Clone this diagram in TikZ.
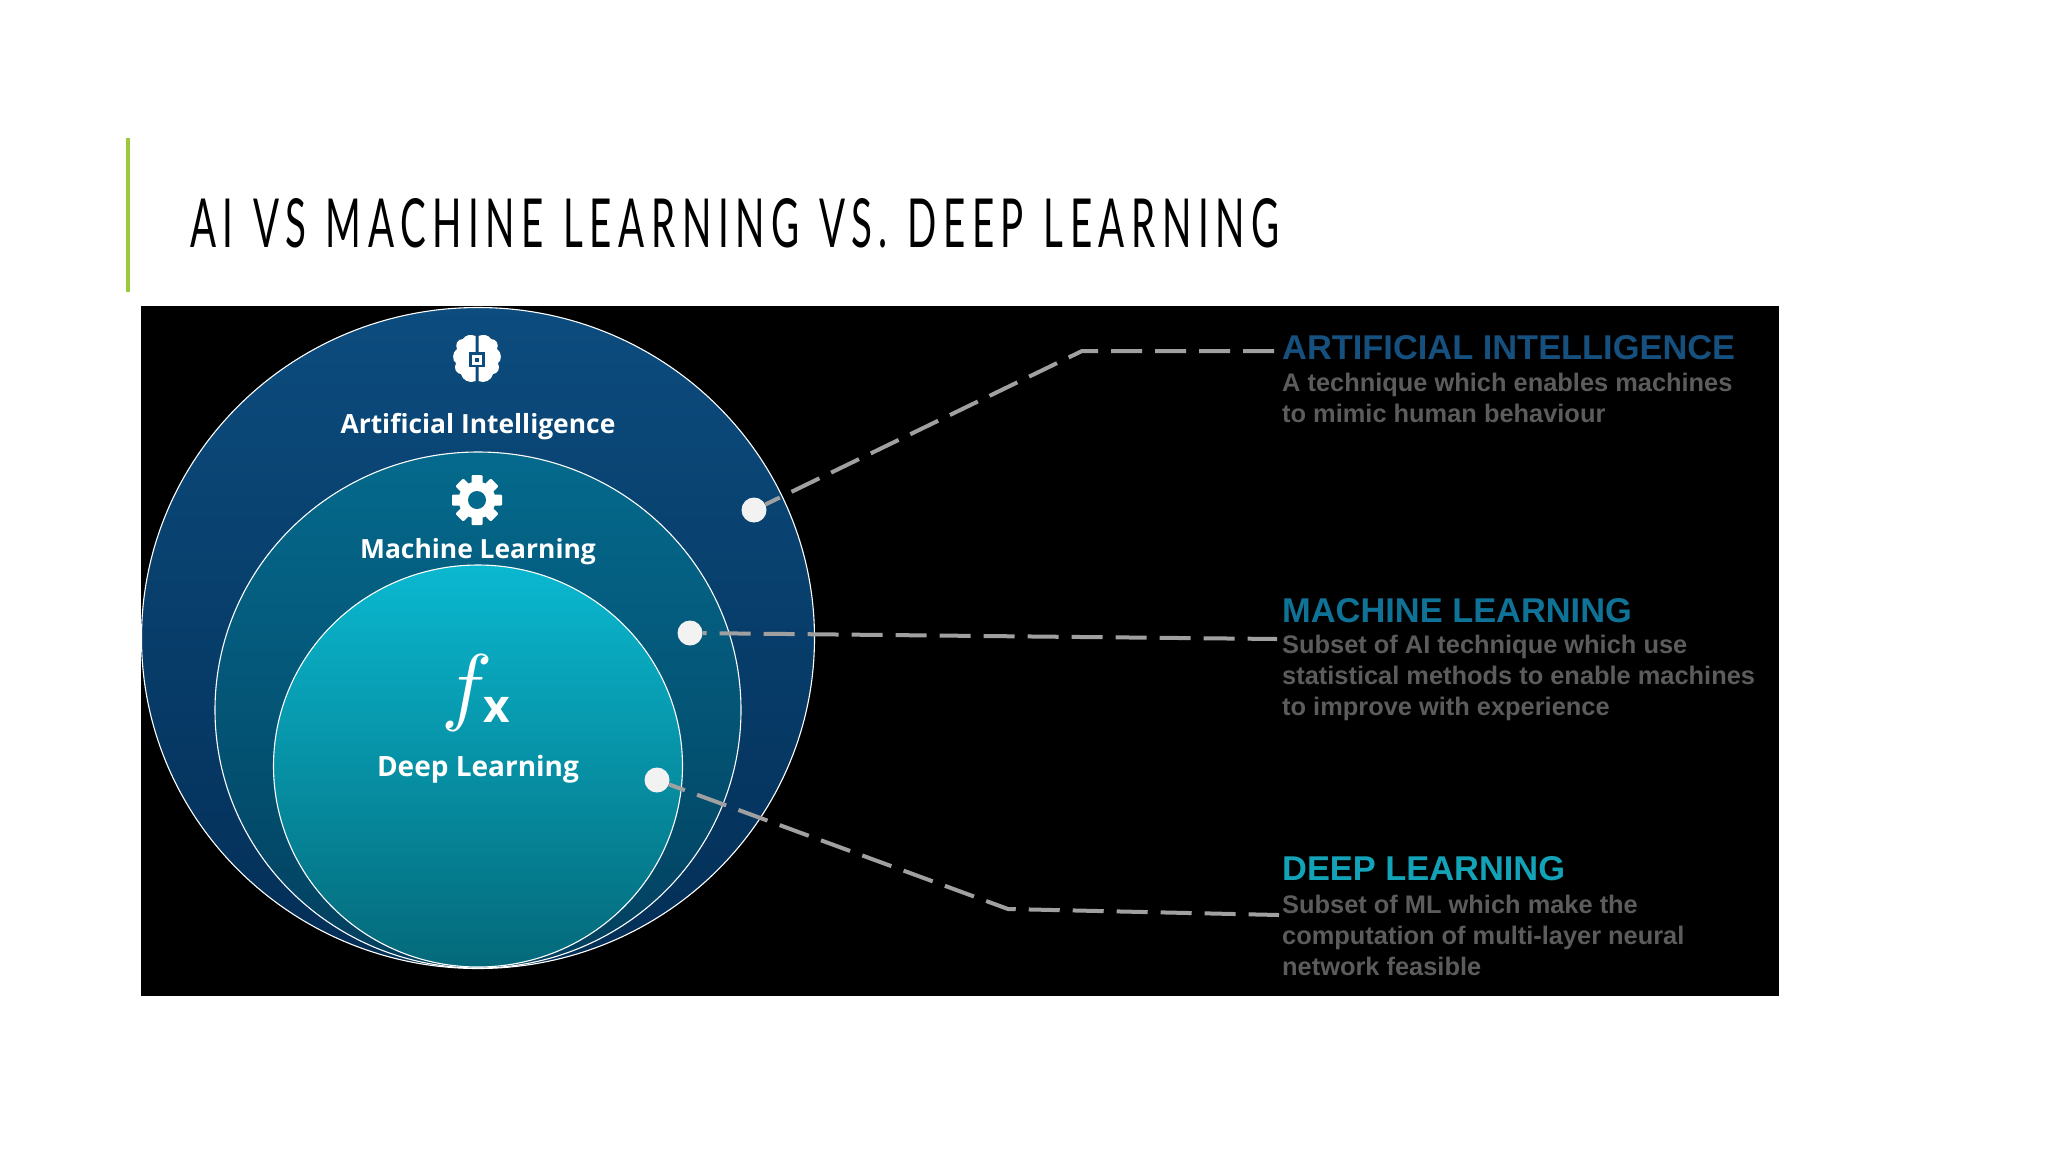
\documentclass[tikz,border=0pt]{standalone}
\usepackage{fontspec}
\usetikzlibrary{shapes.geometric}
\setmainfont{Liberation Sans}
\newfontfamily\titlefont[LetterSpace=17,WordSpace=1.2]{Lato}
\newfontfamily\opensans{Open Sans}
\definecolor{barGreen}{HTML}{9BC83C}
\definecolor{dashGray}{HTML}{A0A0A0}
\definecolor{descGray}{HTML}{5C5C5C}
\definecolor{aiHead}{HTML}{15507F}
\definecolor{mlHead}{HTML}{0F7397}
\definecolor{dlHead}{HTML}{12A3B8}
\definecolor{dotWhite}{HTML}{F2F2F2}
\definecolor{aiTop}{HTML}{0C4C7E}
\definecolor{aiBottom}{HTML}{032E56}
\definecolor{mlTop}{HTML}{046A8D}
\definecolor{mlBottom}{HTML}{033F5E}
\definecolor{dlTop}{HTML}{0AB8D0}
\definecolor{dlBottom}{HTML}{04697A}
\tikzset{
  orb/.style={ellipse,draw=white,line width=1.1pt,inner sep=0pt},
  orbtext/.style={text=white,font=\opensans\bfseries\fontsize{26.4}{30}\selectfont,anchor=base,inner sep=0pt},
  headtext/.style={font=\bfseries\fontsize{34.4}{38}\selectfont,anchor=base west,inner sep=0pt},
  desctext/.style={text=descGray,font=\bfseries\fontsize{25.4}{31}\selectfont,anchor=base west,inner sep=0pt},
  callout/.style={draw=dashGray,line width=4pt,dash pattern=on 31pt off 13pt,line join=round},
  marker/.style={circle,fill=dotWhite,minimum size=25pt,inner sep=0pt}
}
\begin{document}
\begin{tikzpicture}[x=1pt,y=-1pt]
\useasboundingbox (0,0) rectangle (2048,1152);
\fill[white] (0,0) rectangle (2048,1152);
\fill[barGreen] (126,138) rectangle (129.5,292);
\node[anchor=base west,inner sep=0pt] (title) at (190,247)
  {\resizebox{1089pt}{49pt}{\titlefont AI VS MACHINE LEARNING VS. DEEP LEARNING}};
\fill[black] (141,306) rectangle (1779,996);
% orbs
\node[orb,minimum width=673pt,minimum height=661pt,top color=aiTop,bottom color=aiBottom] (ai) at (478,638) {};
\node[orb,minimum width=526pt,minimum height=516pt,top color=mlTop,bottom color=mlBottom] (ml) at (478,710) {};
\node[orb,minimum width=409pt,minimum height=402pt,top color=dlTop,bottom color=dlBottom] (dl) at (478,766) {};
% brain icon
\begin{scope}[shift={(477,359)}]
  \foreach \s in {-1,1}{
    \fill[white,xscale=\s] (1.5,-23) .. controls (6,-25) and (12,-24) .. (14,-20)
      .. controls (20,-20) and (22,-14) .. (20,-10)
      .. controls (25,-7) and (25,2) .. (21,4)
      .. controls (24,10) and (20,15) .. (16,15)
      .. controls (15,21) and (7,25) .. (1.5,22) -- cycle;
  }
  \fill[aiTop] (-8,-7) rectangle (8,8);
  \fill[white] (-5,-4.5) rectangle (5,5.5);
  \fill[aiTop] (-2,-1.5) rectangle (2,2.5);
\end{scope}
% gear icon
\begin{scope}[shift={(477,500)}]
  \fill[white] (0,0) circle (18.5pt);
  \foreach \a in {0,45,...,315}{
    \fill[white,rotate=\a,rounded corners=1pt] (-5.5,-25) rectangle (5.5,-14);
  }
  \fill[mlTop] (0,0) circle (9pt);
\end{scope}
% fx icon
\node[text=white,inner sep=0pt,anchor=base west] (fx) at (441,714)
  {\scalebox{8.6}{$f$}\kern-9pt\raisebox{-8pt}{\opensans\bfseries\fontsize{46}{50}\selectfont x}};
% orb labels
\node[orbtext] (ailabel) at (478,433) {Artificial Intelligence};
\node[orbtext] (mllabel) at (478,558) {Machine Learning};
\node[orbtext,font=\opensans\bfseries\fontsize{28}{30}\selectfont] (dllabel) at (478,776) {Deep Learning};
% connectors
\node[marker] (aidot) at (754,510) {};
\node[marker] (mldot) at (690,633) {};
\node[marker] (dldot) at (657,780) {};
\coordinate (aibend) at (1082,351);
\coordinate (aiend) at (1275,351);
\coordinate (mlend) at (1277,639);
\coordinate (dlbend) at (1008,909);
\coordinate (dlend) at (1279,915);
\draw[callout,dash phase=15pt] (aidot) -- (aibend) -- (aiend);
\draw[callout,dash phase=27pt] (mldot) -- (mlend);
\draw[callout,dash phase=14pt] (dldot) -- (dlbend) -- (dlend);
% right column
\node[headtext,text=aiHead] (aih) at (1282,359) {ARTIFICIAL INTELLIGENCE};
\node[desctext] (aid1) at (1282,391) {A technique which enables machines};
\node[desctext] (aid2) at (1282,422) {to mimic human behaviour};
\node[headtext,text=mlHead] (mlh) at (1282,622) {MACHINE LEARNING};
\node[desctext] (mld1) at (1282,653) {Subset of AI technique which use};
\node[desctext] (mld2) at (1282,684) {statistical methods to enable machines};
\node[desctext] (mld3) at (1282,715) {to improve with experience};
\node[headtext,text=dlHead] (dlh) at (1282,880) {DEEP LEARNING};
\node[desctext] (dld1) at (1282,913) {Subset of ML which make the};
\node[desctext] (dld2) at (1282,944) {computation of multi-layer neural};
\node[desctext] (dld3) at (1282,975) {network feasible};
\end{tikzpicture}
\end{document}
